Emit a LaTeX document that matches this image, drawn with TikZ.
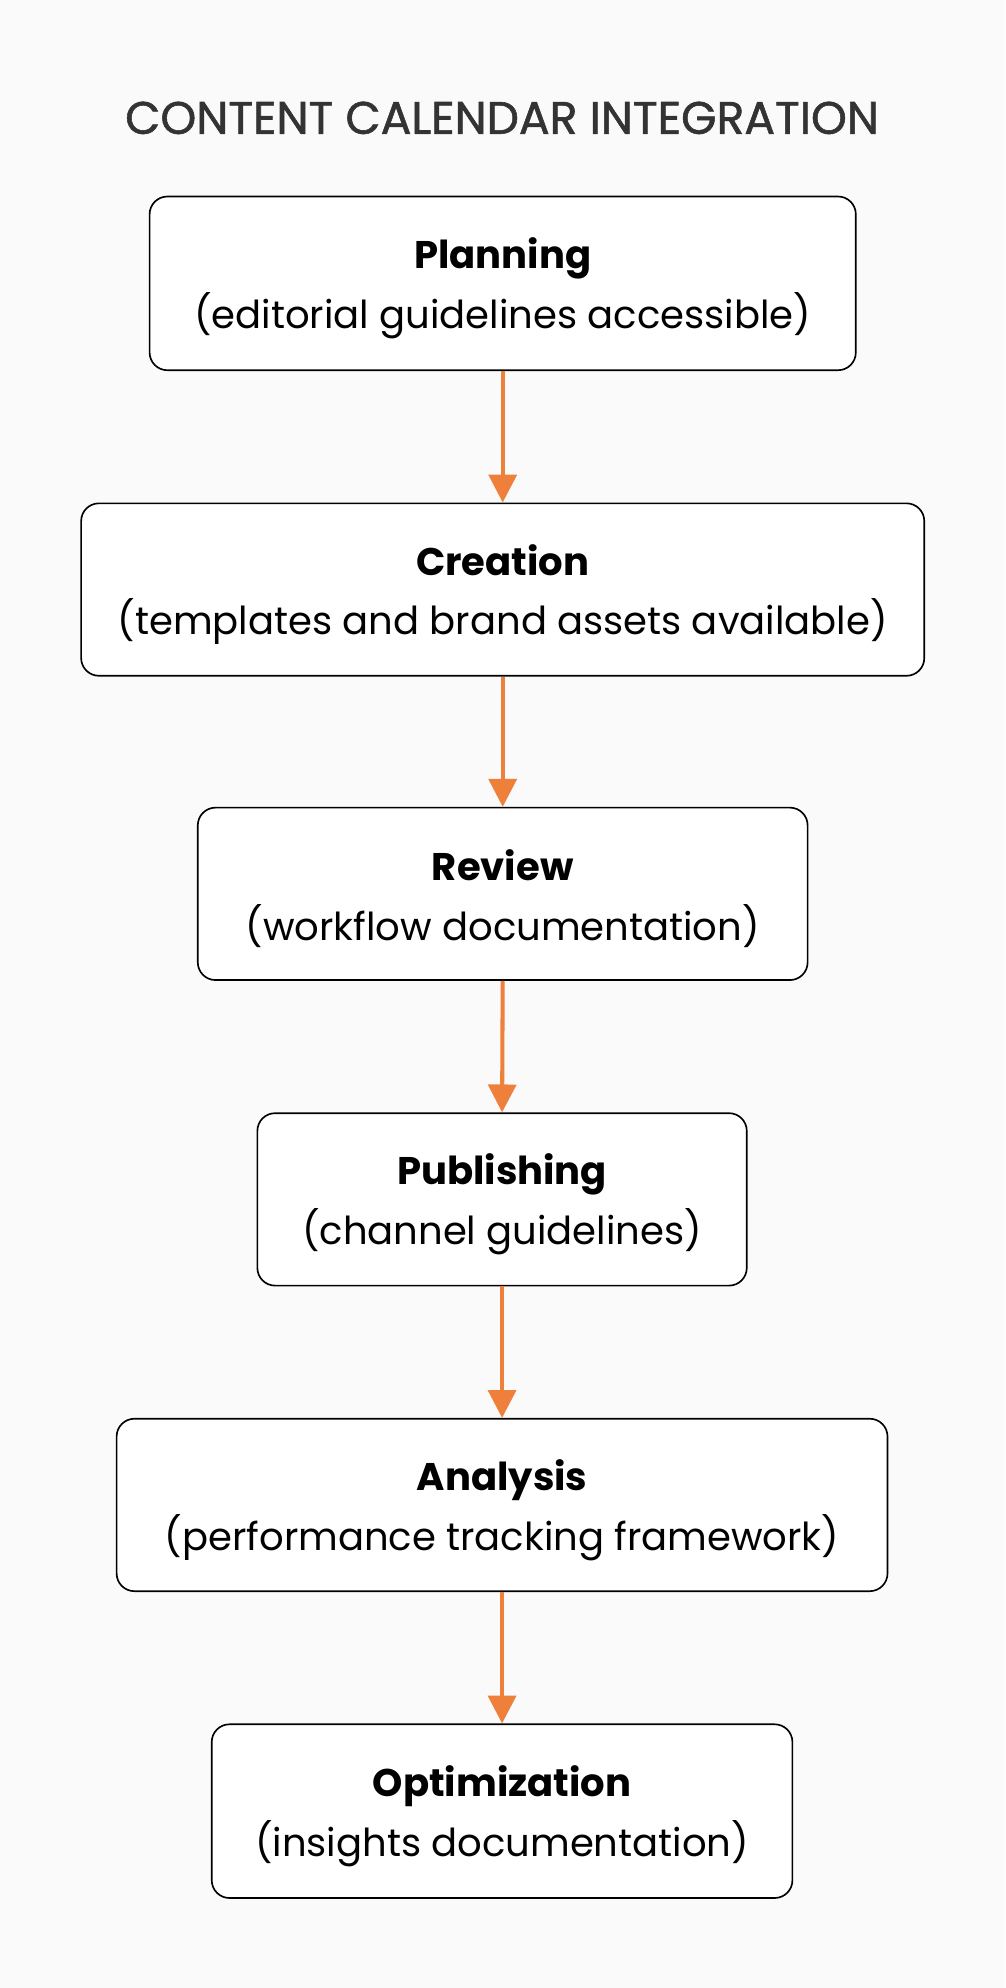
\documentclass[tikz,border=0pt]{standalone}
\usepackage{fontspec}
\setmainfont{Poppins}
\usetikzlibrary{arrows.meta}
\begin{document}
\begin{tikzpicture}[x=1pt,y=-1pt,
  box/.style={draw=black,line width=1.3pt,fill=white,rounded corners=14pt,align=center,font=\fontsize{30.4}{47}\selectfont,inner sep=0pt},
  lbl/.style={align=center,font=\fontsize{30.4}{47}\selectfont,inner sep=0pt},
  arr/.style={color={rgb,255:red,238;green,128;blue,60},line width=3.2pt,-{Triangle[length=22pt,width=22pt]}}]
\useasboundingbox[fill={rgb,255:red,250;green,250;blue,250}] (0,0) rectangle (793,1568);
\node[font=\fontsize{36}{38}\selectfont\addfontfeature{FakeBold=1.2},text={rgb,255:red,51;green,51;blue,51}] (t) at (396,93) {CONTENT CALENDAR INTEGRATION};
\node[box,minimum width=557pt,minimum height=137pt] (a) at (396.5,223.5) {};
\node[box,minimum width=665pt,minimum height=136pt] (b) at (396.5,465) {};
\node[box,minimum width=481pt,minimum height=136pt] (c) at (396.5,705) {};
\node[box,minimum width=386pt,minimum height=136pt] (d) at (396,946) {};
\node[box,minimum width=608pt,minimum height=136pt] (e) at (396,1187) {};
\node[box,minimum width=458pt,minimum height=137pt] (f) at (396,1428.5) {};
\node[lbl] (la) at (396.5,227.5) {\textbf{Planning}\\(editorial guidelines accessible)};
\node[lbl] (lb) at (396.5,469) {\textbf{Creation}\\(templates and brand assets available)};
\node[lbl] (lc) at (396.5,709) {\textbf{Review}\\(workflow documentation)};
\node[lbl] (ld) at (396,950) {\textbf{Publishing}\\(channel guidelines)};
\node[lbl] (le) at (396,1191) {\textbf{Analysis}\\(performance tracking framework)};
\node[lbl] (lf) at (396,1432.5) {\textbf{Optimization}\\(insights documentation)};
\foreach \p/\q in {a/b,b/c,c/d,d/e,e/f} \draw[arr] (\p.south) -- (\q.north);
\end{tikzpicture}
\end{document}
